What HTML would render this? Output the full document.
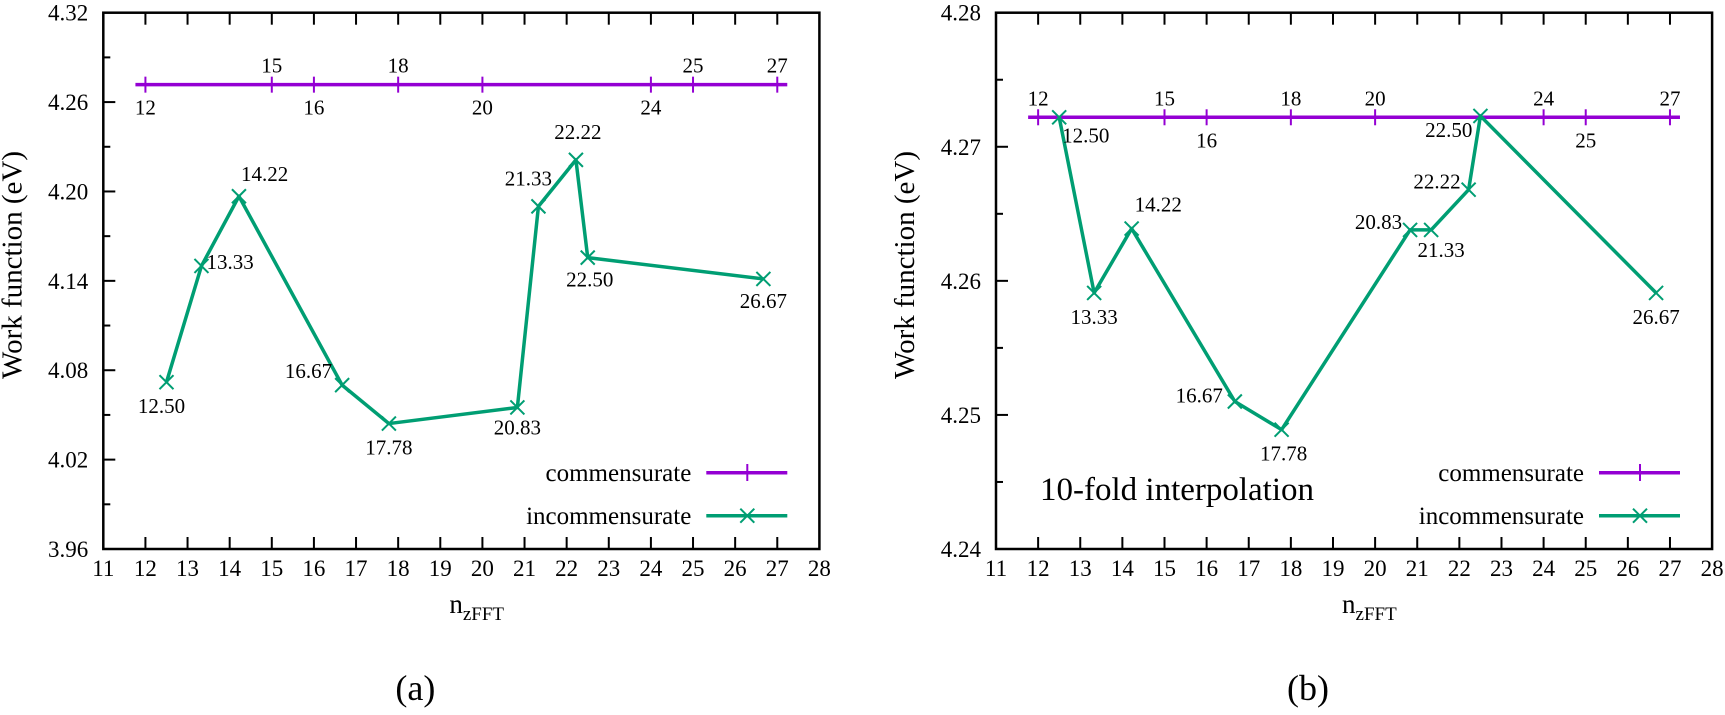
<!DOCTYPE html>
<html><head><meta charset="utf-8"><style>
html,body{margin:0;padding:0;background:#fff;width:1725px;height:715px;overflow:hidden}
svg text{font-family:"Liberation Serif",serif;fill:#000}
</style></head><body>
<svg id="s" width="1725" height="715" xmlns="http://www.w3.org/2000/svg" font-family="Liberation Serif, serif"></svg>
<script>
const S=document.getElementById('s');let h='';
const P='#9400d3',G='#009e73';
function plot(o){
 const L=o.L,R=L+716.1,T=12.7,B=549,u=(R-L)/17;
 const X=v=>L+(v-11)*u, Y=v=>T+(o.ymax-v)/(o.ymax-o.ymin)*(B-T);
 for(let i=11;i<=28;i++){const x=X(i);
  if(i>11&&i<28){h+=`<line x1="${x}" y1="${B}" x2="${x}" y2="${B-12}" stroke="#000" stroke-width="2"/>`;
  h+=`<line x1="${x}" y1="${T}" x2="${x}" y2="${T+12}" stroke="#000" stroke-width="2"/>`;}
  h+=`<text x="${x}" y="576" font-size="23" text-anchor="middle">${i}</text>`;}
 const n=o.nmin*2;
 for(let k=0;k<=n;k++){const v=o.ymin+k*(o.ymax-o.ymin)/n,y=Y(v);
  const maj=k%2==0;
  if(k>0&&k<n)h+=`<line x1="${L}" y1="${y}" x2="${L+(maj?12:7)}" y2="${y}" stroke="#000" stroke-width="2"/>`;
  if(maj)h+=`<text x="${L-15}" y="${y+8}" font-size="23" text-anchor="end">${v.toFixed(2)}</text>`;}
 h+=`<rect x="${L}" y="${T}" width="${R-L}" height="${B-T}" fill="none" stroke="#000" stroke-width="2.5"/>`;
 const cy=Y(o.cv);
 h+=`<line x1="${X(12)-10}" y1="${cy}" x2="${X(27)+10}" y2="${cy}" stroke="${P}" stroke-width="3.5"/>`;
 for(const [v,d] of o.cl){const x=X(v);
  h+=`<line x1="${x}" y1="${cy-8}" x2="${x}" y2="${cy+8}" stroke="${P}" stroke-width="2"/>`;
  h+=`<text x="${x}" y="${cy+(d<0?-12:30)}" font-size="21" text-anchor="middle">${v}</text>`;}
 let pts=o.inc.map(p=>[X(p[0]),Y(p[1])]);
 h+=`<polyline points="${pts.map(p=>p.join(',')).join(' ')}" fill="none" stroke="${G}" stroke-width="3.5" stroke-linejoin="round"/>`;
 o.inc.forEach((p,i)=>{const [x,y]=pts[i];
  h+=`<path d="M${x-7} ${y-7}L${x+7} ${y+7}M${x-7} ${y+7}L${x+7} ${y-7}" stroke="${G}" stroke-width="2"/>`;
  h+=`<text x="${x+p[2]}" y="${y+p[3]+7}" font-size="21" text-anchor="${p[4]}">${p[0].toFixed(2)}</text>`;});
 const lx=L+603;
 h+=`<text x="${lx-15}" y="481" font-size="25" text-anchor="end">commensurate</text>`;
 h+=`<line x1="${lx}" y1="472.7" x2="${lx+81}" y2="472.7" stroke="${P}" stroke-width="3.5"/>`;
 h+=`<line x1="${lx+41}" y1="464" x2="${lx+41}" y2="481" stroke="${P}" stroke-width="2"/>`;
 h+=`<text x="${lx-15}" y="524" font-size="25" text-anchor="end">incommensurate</text>`;
 h+=`<line x1="${lx}" y1="515.7" x2="${lx+81}" y2="515.7" stroke="${G}" stroke-width="3.5"/>`;
 const mx=lx+41,my=515.7;
 h+=`<path d="M${mx-7} ${my-7}L${mx+7} ${my+7}M${mx-7} ${my+7}L${mx+7} ${my-7}" stroke="${G}" stroke-width="2"/>`;
 const cx=(L+R)/2;
 h+=`<text x="${cx-12}" y="613" font-size="27">n<tspan font-size="19" dy="7">zFFT</tspan></text>`;
 h+=`<text x="${cx-46}" y="700" font-size="36" text-anchor="middle">${o.tag}</text>`;
 h+=`<text transform="translate(${L-82},265) rotate(-90)" font-size="29" text-anchor="middle">Work function (eV)</text>`;
}
plot({L:103.3,ymin:3.96,ymax:4.32,nmin:6,tag:'(a)',cv:4.2717,
 cl:[[12,1],[15,-1],[16,1],[18,-1],[20,1],[24,1],[25,-1],[27,-1]],
 inc:[[12.5,4.072,-5,24,'middle'],[13.33,4.150,5,-4,'start'],[14.22,4.1968,2,-22,'start'],
 [16.67,4.070,-10,-14,'end'],[17.78,4.0442,0,24,'middle'],[20.83,4.055,0,20,'middle'],
 [21.33,4.19,-10,-28,'middle'],[22.22,4.2212,2,-28,'middle'],[22.5,4.1556,2,22,'middle'],[26.67,4.1413,0,22,'middle']]});
plot({L:996,ymin:4.24,ymax:4.28,nmin:4,tag:'(b)',cv:4.2722,
 cl:[[12,-1],[15,-1],[16,1],[18,-1],[20,-1],[24,-1],[25,1],[27,-1]],
 inc:[[12.5,4.2722,3,18,'start'],[13.33,4.2591,0,24,'middle'],[14.22,4.2639,3,-24,'start'],
 [16.67,4.251,-12,-6,'end'],[17.78,4.2489,2,24,'middle'],[20.83,4.2638,-8,-8,'end'],
 [21.33,4.2638,10,20,'middle'],[22.22,4.2668,-8,-8,'end'],[22.5,4.2723,-8,14,'end'],[26.67,4.2591,0,24,'middle']]});
h+=`<text x="1040" y="500" font-size="33">10-fold interpolation</text>`;
S.innerHTML=h;
</script>
</body></html>
